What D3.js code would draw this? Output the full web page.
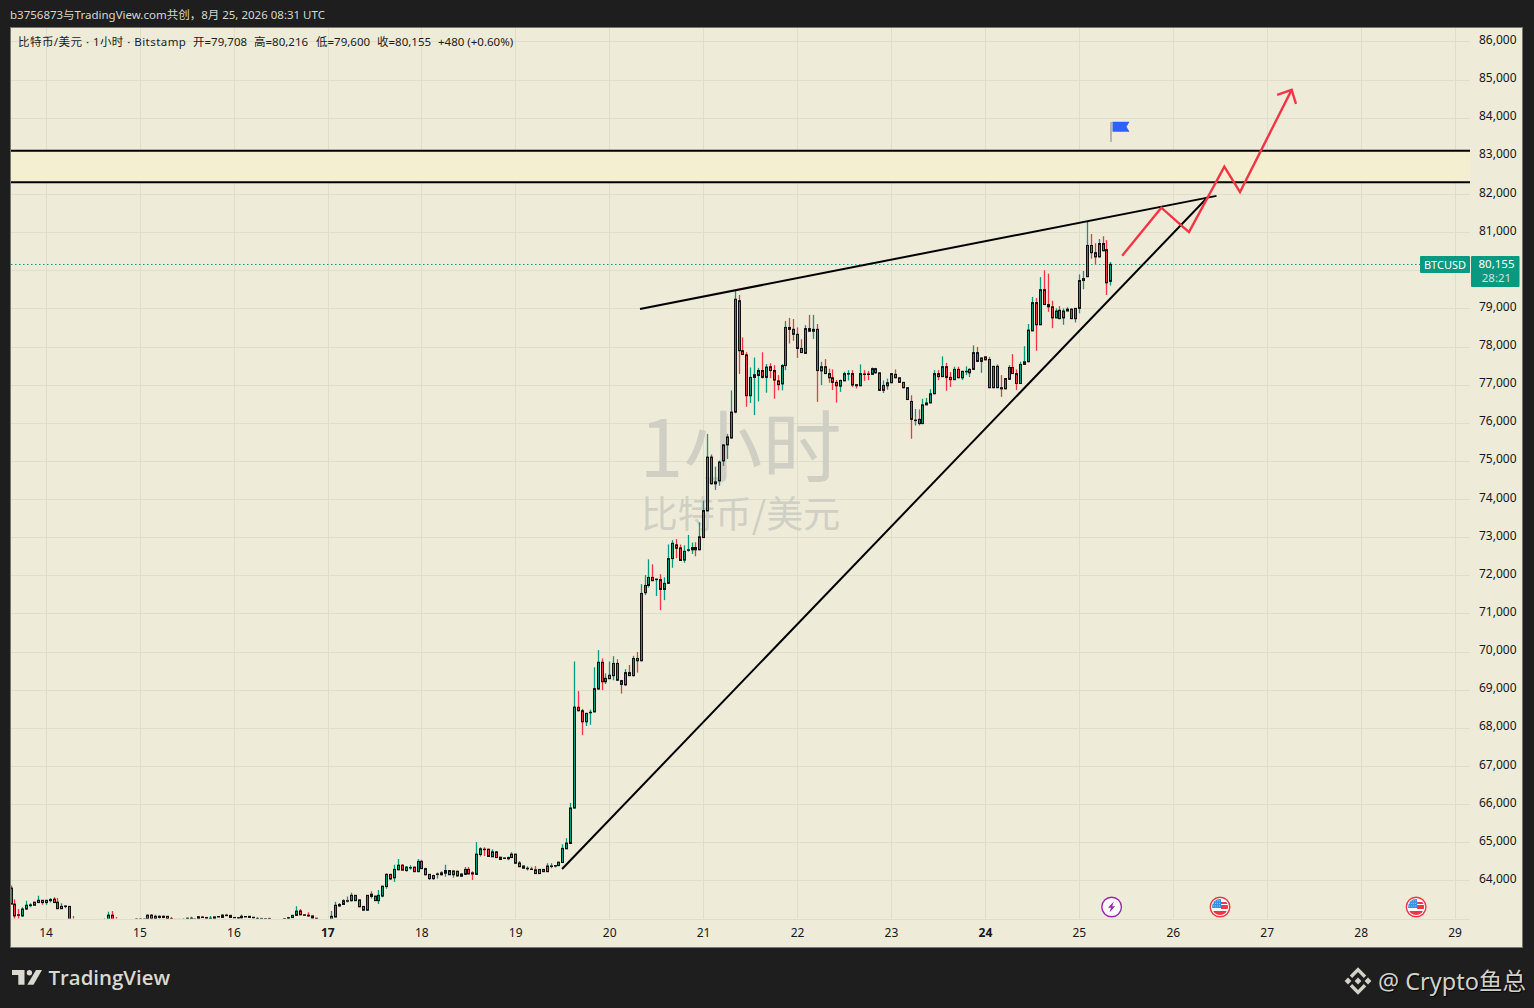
<!DOCTYPE html>
<html>
<head>
<meta charset="utf-8">
<script src="https://cdn.jsdelivr.net/npm/d3@7"></script>
<style>
  html, body { margin: 0; padding: 0; background: #1e1e1e; }
  svg { display: block; }
  text { font-family: "Noto Sans", "Noto Sans CJK SC", sans-serif; }
</style>
</head>
<body>
<svg id="chart" width="1534" height="1008"></svg>
<script>
// hourly BTCUSD bars, first one is 13th 15:00 UTC, last one 25th 08:00
const opens = [
  63800,63380,63100,63070,63250,63340,63350,63420,63480,63420,
  63470,63510,63430,63260,63320,63320,62950,62900,62800,62760,
  62800,62860,62820,62840,62860,62950,63090,62960,62900,62860,
  62880,62920,62980,62990,62980,62990,63090,63000,63060,63030,
  63060,63000,62980,62980,62980,62980,63010,62990,62985,63040,
  63030,63005,63000,63050,63030,63090,63085,63030,63025,63020,
  63050,63060,63030,63000,63005,63000,63005,62960,62900,62880,
  62965,63000,63025,63085,63200,63100,63090,63070,63010,62965,
  62900,62880,62960,63040,63330,63370,63470,63470,63610,63490,
  63320,63220,63640,63590,63470,63590,63840,64160,64070,64280,
  64400,64260,64340,64350,64230,64500,64310,64160,64050,64170,
  64150,64190,64260,64150,64240,64110,64160,64290,64200,64160,
  64680,64820,64820,64620,64750,64610,64590,64570,64600,64690,
  64460,64380,64320,64300,64280,64180,64290,64230,64380,64380,
  64390,64470,64830,64970,65900,68540,68450,68160,68400,68420,
  69020,69720,69210,69290,69370,69690,69240,69130,69450,69370,
  69820,69760,71545,71735,71945,71890,71890,71630,71790,72440,
  72800,72720,72400,72670,72670,72730,72670,72990,73690,75100,
  74400,74480,75000,75420,75600,76280,79200,77890,77780,76710,
  77190,77240,77370,77190,77470,77370,77100,77020,77500,78500,
  78450,78320,77950,77820,78470,78400,78450,77360,77470,77290,
  77180,77060,76960,77100,77290,77290,77000,76970,77280,77280,
  77270,77420,77310,76850,76970,77050,77270,77180,77060,76920,
  76560,76070,76090,75980,76470,76520,76760,77290,77210,77470,
  77190,77130,77400,77180,77350,77310,77400,77840,77610,77730,
  77660,76920,77480,76920,76890,77140,77450,77290,77030,77530,
  77600,78410,79150,78570,79490,79100,79040,78750,78950,78750,
  78930,78980,78730,79000,79730,79830,80650,80460,80350,80700,
  80540,79708
];
const highs = [
  63870,63510,63250,63300,63470,63400,63440,63600,63490,63490,
  63540,63560,63540,63400,63350,63330,63070,62930,62880,62850,
  62900,62920,62900,62920,63010,63180,63200,63040,62950,62930,
  62950,62970,63010,63010,63000,63110,63120,63100,63090,63090,
  63070,63040,62990,62990,63010,63020,63050,63000,63070,63070,
  63040,63070,63050,63060,63120,63125,63095,63040,63030,63110,
  63060,63065,63040,63035,63010,63005,63010,62970,62930,62950,
  63010,63030,63095,63325,63250,63110,63165,63090,63010,62980,
  62930,62970,63200,63445,63410,63510,63580,63680,63620,63500,
  63330,63620,63720,63600,63750,63860,64190,64170,64410,64560,
  64430,64380,64400,64360,64560,64540,64330,64170,64150,64210,
  64240,64410,64270,64260,64260,64180,64350,64350,64240,65010,
  64870,64870,64830,64820,64770,64620,64600,64630,64740,64700,
  64510,64390,64370,64360,64380,64300,64300,64450,64450,64400,
  64490,64950,65110,66030,69740,68965,68500,68400,68480,69590,
  70040,69820,69430,69740,69880,69800,69260,69540,69650,69890,
  69990,71770,72010,72420,72290,71920,72030,71950,72810,72925,
  72950,72810,72790,73060,72860,72870,73390,73960,75710,75170,
  74850,75010,75430,75710,76850,79480,79350,78240,77850,77450,
  77710,77440,77850,77540,77560,77510,77250,77540,78670,78750,
  78720,78500,78190,78560,78830,78830,78590,77600,77670,77420,
  77400,77120,77130,77340,77380,77380,77010,77530,77380,77360,
  77450,77440,77320,77110,77160,77300,77400,77190,77070,76930,
  76720,76360,76350,76630,76650,76880,77380,77380,77740,77570,
  77330,77470,77470,77360,77480,77430,78030,77990,77710,77730,
  77730,77490,77530,77250,77170,77510,77800,77400,77600,78010,
  78590,79300,79270,79820,80000,79910,79200,79000,79060,79000,
  79030,79000,79010,79890,79980,81280,80950,80710,80820,80890,
  80790,80216
];
const lows = [
  63380,62980,62990,63040,63230,63300,63350,63420,63360,63360,
  63420,63420,63260,63260,63270,62950,62860,62750,62700,62700,
  62760,62780,62760,62800,62800,62950,62950,62850,62820,62800,
  62840,62880,62980,62970,62970,62990,62990,62990,62990,63000,
  62990,62960,62970,62970,62970,62970,63000,62980,62985,63030,
  63000,63000,62995,63040,63030,63080,63025,63020,62985,62985,
  63040,63025,62995,62995,62995,62990,62960,62880,62850,62860,
  62960,62995,63025,63085,63090,63080,63040,63000,62950,62860,
  62830,62860,62950,63040,63310,63360,63420,63450,63470,63300,
  63220,63210,63530,63470,63380,63560,63780,64010,63960,64270,
  64260,64230,64280,64230,64230,64300,64130,64010,64010,64050,
  64130,64100,64140,64070,64100,64100,64150,64160,64010,64150,
  64630,64640,64620,64620,64600,64540,64570,64530,64590,64450,
  64360,64310,64260,64280,64170,64170,64220,64220,64320,64340,
  64380,64460,64830,64960,65880,68430,67810,68050,68080,68410,
  69000,68990,69150,69290,69250,69230,68900,69100,69360,69350,
  69450,69750,71480,71680,71850,71460,71090,71350,71780,72200,
  72450,72380,72330,72620,72560,72500,72660,72990,73680,74380,
  74240,74350,74870,75050,75590,76250,77280,77780,76420,76520,
  76200,76560,77160,76790,77170,76630,76850,76850,77380,78080,
  78150,77700,77830,77820,78400,78200,76550,76990,77280,77050,
  76860,76530,76810,77090,77110,76940,76900,76960,77100,77120,
  77260,77290,76840,76780,76870,77040,77170,77050,76900,76600,
  75580,75930,75930,75960,76460,76520,76760,77120,77200,76840,
  76940,77130,77170,77120,77250,77200,77400,77590,77310,77640,
  76910,76910,76910,76680,76880,77130,77280,76860,77020,77520,
  77590,78400,77890,78560,79090,78910,78480,78740,78720,78570,
  78930,78720,78630,78870,79500,79830,80300,80140,80330,80500,
  79350,79600
];
const closes = [
  63380,63070,63090,63250,63350,63360,63430,63480,63420,63480,
  63500,63420,63260,63320,63330,62960,62900,62800,62760,62800,
  62860,62820,62840,62860,62950,63090,62960,62900,62860,62880,
  62920,62960,62990,62980,62990,63090,63000,63060,63030,63060,
  63000,62970,62980,62980,62980,63010,63010,62985,63050,63035,
  63005,63010,63045,63055,63090,63085,63030,63025,63025,63060,
  63055,63030,63035,63005,63000,63000,62965,62900,62880,62930,
  63000,63025,63085,63195,63100,63090,63070,63010,62965,62900,
  62880,62950,63060,63350,63370,63470,63470,63610,63470,63310,
  63220,63610,63580,63470,63610,63850,64160,64040,64290,64400,
  64270,64350,64340,64230,64500,64310,64150,64050,64130,64170,
  64200,64260,64150,64250,64120,64170,64290,64170,64170,64690,
  64830,64810,64630,64750,64600,64550,64580,64600,64690,64450,
  64360,64320,64320,64290,64180,64290,64230,64380,64380,64390,
  64480,64840,64980,65900,68545,68450,68160,68380,68410,69030,
  69720,69210,69300,69380,69690,69250,69140,69450,69370,69820,
  69760,71525,71735,71945,71860,71900,71630,71790,72440,72840,
  72710,72390,72630,72670,72730,72670,73010,73700,75100,74400,
  74450,74970,75420,75630,76280,79240,77890,77790,76710,77190,
  77260,77370,77190,77460,77370,77120,77000,77500,78500,78450,
  78320,77950,77840,78470,78400,78450,77370,77470,77290,77180,
  77060,76970,77110,77290,77290,76990,76970,77290,77270,77270,
  77420,77310,76850,76980,77050,77290,77180,77060,76920,76610,
  76090,76070,75980,76470,76520,76760,77290,77210,77470,77190,
  77130,77400,77180,77350,77350,77400,77840,77610,77700,77650,
  76920,77480,76920,76890,77160,77450,77290,77030,77530,77600,
  78430,79150,78570,79490,79100,79040,78750,78930,78730,78930,
  78980,78730,79000,79730,79780,80650,80460,80350,80700,80510,
  79670,80155
];

// 80,000 has a grid line but its label sits under the price tag
const priceTicks = [64000,65000,66000,67000,68000,69000,70000,71000,72000,73000,74000,
  75000,76000,77000,78000,79000,81000,82000,83000,84000,85000,86000];
const priceGrid = [63000,64000,65000,66000,67000,68000,69000,70000,71000,72000,73000,74000,
  75000,76000,77000,78000,79000,80000,81000,82000,83000,84000,85000,86000];
const dayLabels = [14,15,16,17,18,19,20,21,22,23,24,25,26,27,28,29];
const boldDays = [17,24];
const firstDayBar = 9; // bar number of the 14th 00:00

// drawings, [bar number, price]
const bandPrices = [82310, 83130];
const resistanceLine = [[160.7,78985],[308,81950]];
const supportLine = [[140.8,64300],[305.8,81920]];
const forecastPath = [[283.9,80382],[293.9,81640],[300.96,81000],[310,82716],[314,82050],[327.2,84730]];
const arrowHead = [[323.5,84600],[327.2,84730],[328.3,84360]];
const lastPrice = 80155;
const flagBar = 281;
const flagPrice = 83890;
const events = [
  { bar: 281.2, kind: "bolt" },
  { bar: 308.9, kind: "us" },
  { bar: 359, kind: "us" },
];

const up = "#089981", down = "#f23645";
const paper = "#eeebd9", gridCol = "#dedecb";

const plotLeft = 11, plotRight = 1470, plotTop = 28, plotBottom = 918.6;

const x = d3.scaleLinear().domain([0, 370]).range([11, 11 + 370 * 3.914]);
const y = d3.scaleLinear().domain([63000, 86000]).range([plotBottom, 41.4]);
const dayBar = d => firstDayBar + (d - 14) * 24;

const svg = d3.select("#chart");
svg.append("rect").attr("width", 1534).attr("height", 1008).attr("fill", "#1e1e1e");
svg.append("rect").attr("x", 10.5).attr("y", 27.5).attr("width", 1512).attr("height", 920)
  .attr("fill", paper).attr("stroke", "#77776f");

svg.append("defs").append("clipPath").attr("id", "plot").append("rect")
  .attr("x", plotLeft).attr("y", plotTop).attr("width", plotRight - plotLeft).attr("height", plotBottom - plotTop);

// grid
const grid = svg.append("g").attr("stroke", gridCol).attr("stroke-width", 1);
priceGrid.forEach(p => {
  const yy = Math.round(y(p)) + 0.5;
  grid.append("line").attr("x1", plotLeft).attr("x2", plotRight).attr("y1", yy).attr("y2", yy);
});
dayLabels.forEach(d => {
  const xx = Math.floor(x(dayBar(d))) + 0.5;
  grid.append("line").attr("x1", xx).attr("x2", xx).attr("y1", plotTop).attr("y2", plotBottom);
});

// watermark
svg.append("text").attr("x", 740.5).attr("y", 477).attr("text-anchor", "middle")
  .attr("font-size", 79).attr("fill", "#cfcfc3").attr("font-weight", 400)
  .style("font-family", '"Noto Sans CJK SC"').text("1小时");
svg.append("text").attr("x", 740.5).attr("y", 528).attr("text-anchor", "middle")
  .attr("font-size", 37).attr("fill", "#cfcfc3")
  .style("font-family", '"Noto Sans CJK SC"').text("比特币/美元");

const plot = svg.append("g").attr("clip-path", "url(#plot)");

// resistance band
plot.append("rect").attr("x", plotLeft).attr("width", plotRight - plotLeft)
  .attr("y", y(bandPrices[1])).attr("height", y(bandPrices[0]) - y(bandPrices[1]))
  .attr("fill", "#f4efd0");
bandPrices.forEach(p => {
  plot.append("line").attr("x1", plotLeft).attr("x2", plotRight).attr("y1", y(p)).attr("y2", y(p))
    .attr("stroke", "#000").attr("stroke-width", 2);
});

// last price line
const priceY = Math.round(y(lastPrice)) + 0.5;
plot.append("line").attr("x1", plotLeft).attr("x2", 1420).attr("y1", priceY).attr("y2", priceY)
  .attr("stroke", up).attr("stroke-width", 1).attr("stroke-dasharray", "1.5 2.5");

// candles
const bars = d3.range(opens.length);
const barX = i => Math.floor(x(i)) + 0.5;
const candle = plot.append("g").selectAll("g").data(bars).join("g");
candle.append("line")
  .attr("x1", barX)
  .attr("x2", barX)
  .attr("y1", i => y(highs[i]))
  .attr("y2", i => y(lows[i]))
  .attr("stroke-width", 1.3)
  .attr("stroke", i => closes[i] >= opens[i] ? up : down);
candle.append("rect")
  .attr("x", i => barX(i) - 1)
  .attr("width", 2)
  .attr("y", i => y(Math.max(opens[i], closes[i])))
  .attr("height", i => Math.max(0.5, Math.abs(y(opens[i]) - y(closes[i]))))
  .attr("fill", i => closes[i] >= opens[i] ? up : down)
  .attr("stroke", "#111").attr("stroke-width", 1);

// trend lines and the drawn forecast
const path = d3.line().x(d => x(d[0])).y(d => y(d[1]));
[resistanceLine, supportLine].forEach(l => {
  plot.append("path").attr("d", path(l)).attr("fill", "none")
    .attr("stroke", "#000").attr("stroke-width", 2);
});
[forecastPath, arrowHead].forEach(l => {
  plot.append("path").attr("d", path(l)).attr("fill", "none")
    .attr("stroke", "#f23645").attr("stroke-width", 2.4).attr("stroke-linejoin", "miter");
});

// blue flag on the last bar
const fx = barX(flagBar) + 0.5, fy = y(flagPrice);
plot.append("line").attr("x1", fx).attr("x2", fx).attr("y1", fy).attr("y2", fy + 20)
  .attr("stroke", "#808078");
plot.append("path").attr("fill", "#2962ff")
  .attr("d", `M${fx + 1.5},${fy}h17l-3,5l3,5h-17z`);

// event icons on the time axis edge
events.forEach((ev, n) => {
  const cx = x(ev.bar), cy = 907;
  const col = ev.kind === "us" ? "#f23645" : "#9c27b0";
  const g = svg.append("g");
  g.append("circle").attr("cx", cx).attr("cy", cy).attr("r", 9.8).attr("fill", "#fff")
    .attr("stroke", col).attr("stroke-width", 1.4);
  if (ev.kind === "bolt") {
    g.append("path").attr("fill", col)
      .attr("d", `M${cx + 2.2},${cy - 5.5}L${cx - 3.6},${cy + 0.8}H${cx - 0.6}L${cx - 2.2},${cy + 5.5}L${cx + 3.6},${cy - 0.8}H${cx + 0.6}Z`);
  } else {
    const id = "usclip" + n;
    g.append("clipPath").attr("id", id).append("circle").attr("cx", cx).attr("cy", cy).attr("r", 8);
    const f = g.append("g").attr("clip-path", `url(#${id})`);
    f.append("rect").attr("x", cx - 9).attr("y", cy - 8).attr("width", 10).attr("height", 9).attr("fill", "#3a8fe0");
    f.append("rect").attr("x", cx + 1).attr("y", cy - 5).attr("width", 9).attr("height", 2).attr("fill", "#f23645");
    f.append("rect").attr("x", cx + 1).attr("y", cy - 2).attr("width", 9).attr("height", 4).attr("fill", "#f23645");
    f.append("rect").attr("x", cx - 9).attr("y", cy + 4).attr("width", 18).attr("height", 4).attr("fill", "#f23645");
    [-6, -3.5, -1].forEach(dy => {
      f.append("line").attr("x1", cx - 9).attr("x2", cx + 1).attr("y1", cy + dy).attr("y2", cy + dy)
        .attr("stroke", "#dbe9f8").attr("stroke-width", 0.6).attr("stroke-dasharray", "1 1");
    });
  }
});

// axes
const yAxis = svg.append("g").attr("transform", `translate(${plotRight},0)`)
  .call(d3.axisRight(y).tickValues(priceTicks).tickSize(0).tickPadding(9).tickFormat(d3.format(",")));
yAxis.select(".domain").remove();
yAxis.selectAll("text").attr("dy", "0.17em").attr("font-size", 12).attr("fill", "#131722")
  .style("font-family", '"Noto Sans"');

const xAxis = svg.append("g").attr("transform", `translate(-0.7,${plotBottom})`)
  .call(d3.axisBottom(x).tickValues(dayLabels.map(dayBar)).tickSize(0).tickPadding(10)
    .tickFormat(b => dayLabels[(b - firstDayBar) / 24]));
xAxis.select(".domain").remove();
xAxis.selectAll("text").attr("font-size", 12).attr("fill", "#131722")
  .attr("font-weight", (b) => boldDays.includes(dayLabels[(b - firstDayBar) / 24]) ? 700 : 400)
  .style("font-family", '"Noto Sans"');

// price tags
svg.append("rect").attr("x", 1420).attr("y", 256).attr("width", 50).attr("height", 17).attr("rx", 1).attr("fill", up);
svg.append("text").attr("x", 1445).attr("y", 268.5).attr("text-anchor", "middle")
  .attr("font-size", 11).attr("fill", "#fff").text("BTCUSD");
svg.append("rect").attr("x", 1471).attr("y", 256).attr("width", 48.5).attr("height", 31).attr("rx", 1).attr("fill", up);
svg.append("text").attr("x", 1496.5).attr("y", 268).attr("text-anchor", "middle")
  .attr("font-size", 11.5).attr("fill", "#fff").text(d3.format(",")(lastPrice));
svg.append("text").attr("x", 1496.5).attr("y", 282).attr("text-anchor", "middle")
  .attr("font-size", 11.5).attr("fill", "#cfe6df").text("28:21");

// header and legend
svg.append("text").attr("x", 10).attr("y", 18.5).attr("font-size", 11.5).attr("fill", "#d6d6ce")
  .text("b3756873与TradingView.com共创，8月 25, 2026 08:31 UTC");
const legend = [
  [18, "比特币/美元 · 1小时 · Bitstamp", 0.45],
  [193, "开=79,708", 0],
  [254, "高=80,216", 0],
  [316, "低=79,600", 0],
  [377, "收=80,155", 0],
  [438, "+480 (+0.60%)", 0],
];
svg.append("g").selectAll("text").data(legend).join("text")
  .attr("x", d => d[0]).attr("y", 46).attr("font-size", 11.5).attr("fill", "#1c1c1c")
  .attr("letter-spacing", d => d[2])
  .text(d => d[1]);

// footer, TradingView mark
const logo = svg.append("g").attr("fill", "#d9d9d0").attr("transform", "translate(12,970)");
logo.append("path").attr("d", "M0,0H12.5V14.7H6.3V5H0Z");
logo.append("circle").attr("cx", 17.4).attr("cy", 2.7).attr("r", 2.7);
logo.append("path").attr("d", "M24,0H30L21.5,14.7H15.3Z");
svg.append("text").attr("x", 48.5).attr("y", 985).attr("font-size", 20.4).attr("font-weight", 600)
  .attr("fill", "#d9d9d0").style("font-family", '"Open Sans"').text("TradingView");

// footer, author badge
const bx = 1358, by = 981;
const badge = svg.append("g").attr("fill", "#d2d2c8").attr("transform", `translate(${bx},${by})`);
badge.append("path").attr("d", "M0,-3.4L3.4,0L0,3.4L-3.4,0Z");
badge.append("path").attr("d", "M-10,-3.4L-6.6,0L-10,3.4L-13.4,0Z");
badge.append("path").attr("d", "M10,-3.4L13.4,0L10,3.4L6.6,0Z");
badge.append("path").attr("d", "M0,-13.7L8.2,-5.5L5.8,-3.1L0,-8.9L-5.8,-3.1L-8.2,-5.5Z");
badge.append("path").attr("d", "M0,13.7L8.2,5.5L5.8,3.1L0,8.9L-5.8,3.1L-8.2,5.5Z");
svg.append("text").attr("x", 1378).attr("y", 990).attr("font-size", 23.5).attr("fill", "#d2d2c8")
  .style("text-shadow", "1px 1px 1px #000")
  .text("@ Crypto鱼总");
</script>
</body>
</html>
